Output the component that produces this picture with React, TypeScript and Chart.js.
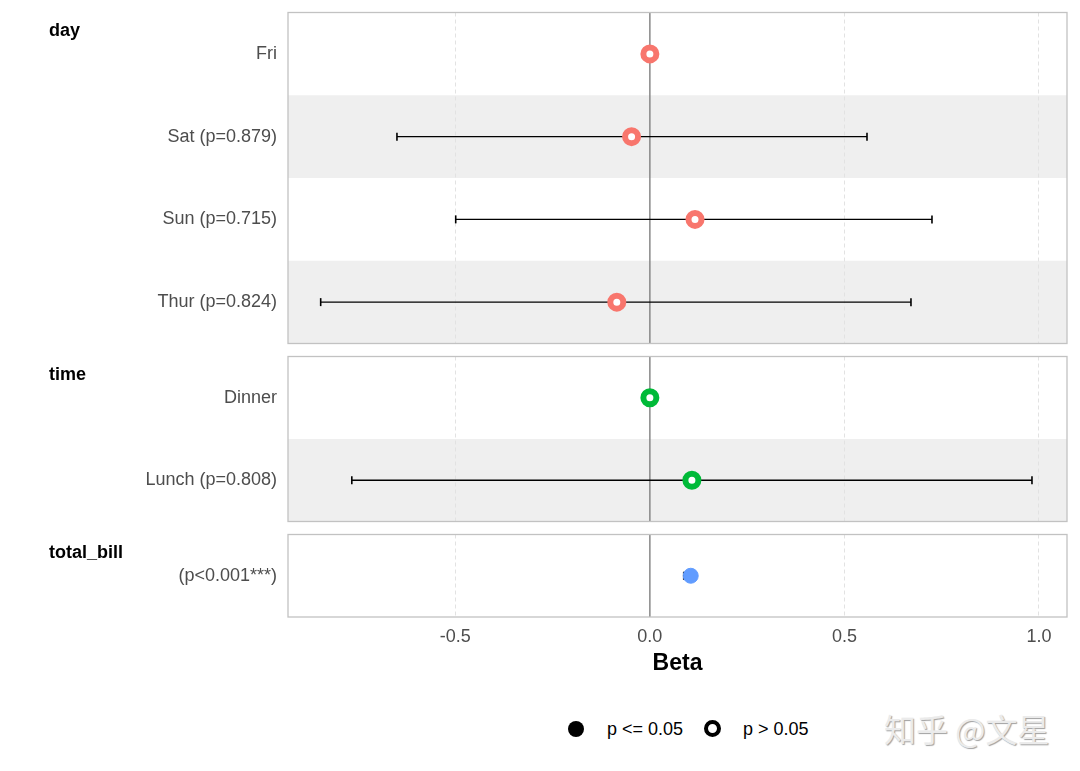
import React, { useEffect, useRef } from 'react';
import { Chart, registerables } from 'chart.js';
Chart.register(...registerables);

// ---- data ----
const dayLabels = ['Fri', 'Sat (p=0.879)', 'Sun (p=0.715)', 'Thur (p=0.824)'];
const dayBeta = [0, -0.047, 0.116, -0.085];
const dayLow: (number | null)[] = [null, -0.65, -0.499, -0.846];
const dayHigh: (number | null)[] = [null, 0.558, 0.725, 0.671];
const daySig = [false, false, false, false];

const timeLabels = ['Dinner', 'Lunch (p=0.808)'];
const timeBeta = [0, 0.108];
const timeLow: (number | null)[] = [null, -0.766];
const timeHigh: (number | null)[] = [null, 0.982];
const timeSig = [false, false];

const billLabels = ['(p<0.001***)'];
const billBeta = [0.105];
const billLow: (number | null)[] = [0.087];
const billHigh: (number | null)[] = [0.118];
const billSig = [true];

const xTickValues = [-0.5, 0, 0.5, 1.0];
const xMin = -0.93;
const xMax = 1.072;

const FONT = '"Liberation Sans", Arial, sans-serif';

type PanelProps = {
  title: string;
  labels: string[];
  beta: number[];
  low: (number | null)[];
  high: (number | null)[];
  sig: boolean[];
  color: string;
  top: number;
  height: number;
  showAxis: boolean;
};

function Panel(p: PanelProps) {
  const ref = useRef<HTMLCanvasElement>(null);
  useEffect(() => {
    if (!ref.current) return;
    const ciSets: any[] = [];
    p.labels.forEach((lab, i) => {
      const lo = p.low[i];
      const hi = p.high[i];
      if (lo == null || hi == null) return;
      ciSets.push({
        type: 'scatter',
        showLine: true,
        data: [
          { x: lo, y: lab },
          { x: hi, y: lab },
        ],
        borderColor: '#000',
        borderWidth: 1.4,
        pointStyle: 'line',
        rotation: 90,
        pointRadius: 4,
        pointBorderColor: '#000',
        pointBorderWidth: 1.6,
        order: 2,
      });
    });
    const pointSet = {
      type: 'scatter',
      data: p.labels.map((lab, i) => ({ x: p.beta[i], y: lab })),
      pointRadius: p.sig.map((s) => (s ? 7.5 : 6.5)),
      pointBorderWidth: p.sig.map((s) => (s ? 1 : 6)),
      pointBorderColor: p.color,
      pointBackgroundColor: p.sig.map((s) => (s ? p.color : '#ffffff')),
      order: 1,
    };

    const plugin = {
      id: 'panelDeco',
      beforeDraw(chart: any) {
        const { ctx, chartArea: a, scales } = chart;
        const y = scales.y;
        const n = p.labels.length;
        const step = (a.bottom - a.top) / n;
        ctx.save();
        ctx.fillStyle = '#efefef';
        p.labels.forEach((_, i) => {
          if (i % 2 === 1) {
            const c = y.getPixelForValue(i);
            ctx.fillRect(a.left, c - step / 2, a.right - a.left, step);
          }
        });
        ctx.restore();
      },
      beforeDatasetsDraw(chart: any) {
        const { ctx, chartArea: a, scales } = chart;
        const x0 = scales.x.getPixelForValue(0);
        ctx.save();
        ctx.strokeStyle = '#7f7f7f';
        ctx.lineWidth = 1.4;
        ctx.beginPath();
        ctx.moveTo(x0, a.top);
        ctx.lineTo(x0, a.bottom);
        ctx.stroke();
        ctx.restore();
      },
      afterDraw(chart: any) {
        const { ctx, chartArea: a } = chart;
        ctx.save();
        ctx.strokeStyle = '#c2c2c2';
        ctx.lineWidth = 1.3;
        ctx.strokeRect(a.left, a.top, a.right - a.left, a.bottom - a.top);
        ctx.fillStyle = '#000';
        ctx.font = `bold 18px ${FONT}`;
        ctx.textAlign = 'left';
        ctx.textBaseline = 'middle';
        ctx.fillText(p.title, 49, a.top + 19);
        ctx.restore();
      },
    };

    const chart = new Chart(ref.current, {
      type: 'scatter',
      data: { labels: p.labels, datasets: [pointSet, ...ciSets] as any },
      plugins: [plugin],
      options: {
        animation: false,
        responsive: false,
        maintainAspectRatio: false,
        layout: { padding: { left: 0, right: 13, top: 2, bottom: 0 } },
        plugins: { legend: { display: false }, tooltip: { enabled: false } },
        scales: {
          x: {
            type: 'linear',
            min: xMin,
            max: xMax,
            afterBuildTicks: (s: any) => {
              s.ticks = xTickValues.map((v) => ({ value: v }));
            },
            afterFit: (s: any) => {
              s.height = p.showAxis ? 63 : 2;
              s.paddingLeft = 0;
              s.paddingRight = 0;
            },
            grid: {
              color: (c: any) => (c.tick && c.tick.value === 0 ? 'rgba(0,0,0,0)' : '#e2e2e2'),
              lineWidth: 1,
              drawTicks: false,
            },
            border: { display: false, dash: [4, 3] },
            ticks: {
              display: p.showAxis,
              color: '#4d4d4d',
              font: { family: FONT, size: 18 },
              padding: 9,
              callback: (v: any) => Number(v).toFixed(1),
            },
            title: {
              display: p.showAxis,
              text: 'Beta',
              color: '#000',
              font: { family: FONT, size: 23, weight: 'bold' },
              padding: { top: 0, bottom: 3 },
            },
          },
          y: {
            type: 'category',
            labels: p.labels,
            offset: true,
            afterFit: (s: any) => {
              s.width = 288;
              s.paddingTop = 0;
              s.paddingBottom = 0;
            },
            grid: { display: false, drawTicks: false },
            border: { display: false },
            ticks: {
              color: '#4d4d4d',
              font: { family: FONT, size: 18 },
              padding: 11,
            },
          },
        } as any,
      } as any,
    });
    return () => chart.destroy();
  }, []);
  return (
    <div style={{ position: 'absolute', left: 0, top: p.top, width: 1080, height: p.height }}>
      <canvas ref={ref} width={1080} height={p.height} style={{ display: 'block' }} />
    </div>
  );
}

export default function App() {
  return (
    <div
      style={{
        position: 'fixed',
        left: 0,
        top: 0,
        width: 1080,
        height: 771,
        background: '#fff',
        fontFamily: FONT,
        overflow: 'hidden',
      }}
    >
      <Panel
        title="day"
        labels={dayLabels}
        beta={dayBeta}
        low={dayLow}
        high={dayHigh}
        sig={daySig}
        color="#F8766D"
        top={0}
        height={356}
        showAxis={false}
      />
      <Panel
        title="time"
        labels={timeLabels}
        beta={timeBeta}
        low={timeLow}
        high={timeHigh}
        sig={timeSig}
        color="#00BA38"
        top={344}
        height={190}
        showAxis={false}
      />
      <Panel
        title="total_bill"
        labels={billLabels}
        beta={billBeta}
        low={billLow}
        high={billHigh}
        sig={billSig}
        color="#619CFF"
        top={526}
        height={154}
        showAxis={true}
      />
      {/* legend */}
      <div style={{ position: 'absolute', left: 568, top: 721, width: 16, height: 16, borderRadius: '50%', background: '#000' }} />
      <div style={{ position: 'absolute', left: 607, top: 718, fontSize: 18, lineHeight: '22px', color: '#000' }}>p &lt;= 0.05</div>
      <div
        style={{
          position: 'absolute',
          left: 704,
          top: 720,
          width: 9,
          height: 9,
          borderRadius: '50%',
          border: '4.5px solid #000',
          background: '#fff',
        }}
      />
      <div style={{ position: 'absolute', left: 743, top: 718, fontSize: 18, lineHeight: '22px', color: '#000' }}>p &gt; 0.05</div>
      <div
        style={{
          position: 'absolute',
          left: 884,
          top: 708,
          fontSize: 32,
          lineHeight: '40px',
          color: '#ebebeb',
          fontFamily: '"Noto Sans CJK SC", sans-serif',
          textShadow: '1px 1px 1px #a0a0a0',
          whiteSpace: 'nowrap',
        }}
      >
        知乎 @文星
      </div>
    </div>
  );
}
